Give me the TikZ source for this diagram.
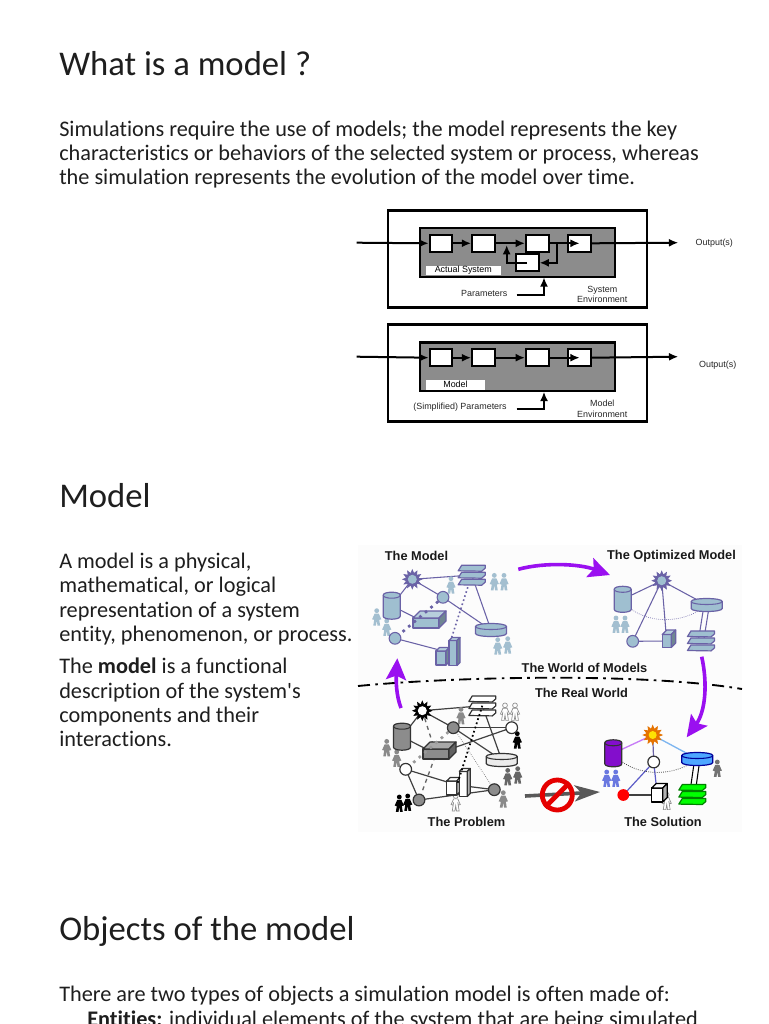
\documentclass[tikz,border=0pt]{standalone}
\usepackage{fontspec}
\setmainfont{Carlito}[Ligatures={CommonOff,TeXOff}]
\newfontfamily\dgm{Liberation Sans}
\usetikzlibrary{shapes.geometric,arrows.meta}
\definecolor{txt}{HTML}{1E1E1E}
\definecolor{mfill}{HTML}{9FBFD0}
\definecolor{mline}{HTML}{6A62A6}
\definecolor{mppl}{HTML}{A3BFD0}
\definecolor{pur}{HTML}{9A10F0}
\definecolor{pgray}{HTML}{8A8A8A}
\definecolor{pbx}{HTML}{8C8C8C}
\definecolor{pln}{HTML}{333333}
\definecolor{sblue}{HTML}{5C5CC8}
\definecolor{slb}{HTML}{7EB6F0}
\definecolor{scy}{HTML}{4DA6FF}
\definecolor{sppl}{HTML}{6A78E0}
\newcommand\iccyl[6]{\begin{scope}[shift={(#1)}]
\draw[draw=#6,fill=#5,line width=.9pt] (-#2,-#3) -- (-#2,#3) .. controls (-#2,#3+1.33*#4) and (#2,#3+1.33*#4) .. (#2,#3) -- (#2,-#3) .. controls (#2,-#3-1.33*#4) and (-#2,-#3-1.33*#4) .. (-#2,-#3) -- cycle;
\draw[draw=#6,line width=.8pt] (-#2,-#3) .. controls (-#2,-#3+1.33*#4) and (#2,-#3+1.33*#4) .. (#2,-#3);
\end{scope}}
\newcommand\icbox[6]{\begin{scope}[shift={(#1)}]
\draw[draw=#6,fill=#5,line width=.9pt,line join=round] (-#2,-#3) rectangle (#2,#3);
\draw[draw=#6,fill=#5!75!white,line width=.9pt,line join=round] (-#2,-#3) -- (-#2+#4,-#3-#4) -- (#2+#4,-#3-#4) -- (#2,-#3) -- cycle;
\draw[draw=#6,fill=#5!70!black,line width=.9pt,line join=round] (#2,-#3) -- (#2+#4,-#3-#4) -- (#2+#4,#3-#4) -- (#2,#3) -- cycle;
\end{scope}}
\newcommand\icstack[3]{\begin{scope}[shift={(#1)}]
\foreach \dy in {7,0,-7}{
\draw[draw=#3,fill=#2,line width=.9pt,line join=round] (-13.5,\dy+2.8) -- (-10,\dy-2.8) -- (13.5,\dy-2.8) -- (13.5,\dy+.2) -- (10,\dy+3.2) -- cycle;}
\end{scope}}
\newcommand\icppl[3]{\begin{scope}[shift={(#1,#2)},scale=1.15]
\fill[#3] (0,-5.5) circle (2.1);
\fill[#3] (-1.8,-3) -- (1.8,-3) -- (4,2) -- (2.4,2.4) -- (1.8,0) -- (3,7.5) -- (.7,7.5) -- (0,3) -- (-.7,7.5) -- (-3,7.5) -- (-1.8,0) -- (-2.4,2.4) -- (-4,2) -- cycle;
\end{scope}}
\newcommand\icwppl[3]{\begin{scope}[shift={(#1,#2)},scale=1.15]
\draw[#3,line width=.5pt] (0,-5.5) circle (2.1);
\draw[#3,line width=.5pt,fill=white] (-1.8,-3) -- (1.8,-3) -- (4,2) -- (2.4,2.4) -- (1.8,0) -- (3,7.5) -- (.7,7.5) -- (0,3) -- (-.7,7.5) -- (-3,7.5) -- (-1.8,0) -- (-2.4,2.4) -- (-4,2) -- cycle;
\end{scope}}
\tikzset{
 x=0.75pt,y=-0.75pt,
 ttl/.style={anchor=base west,inner sep=0,font=\fontsize{26}{30}\selectfont,text=txt},
 bdy/.style={anchor=base west,inner sep=0,font=\fontsize{16.7}{20}\selectfont,text=txt},
 dlab/.style={inner sep=0,font=\dgm\fontsize{6.7}{7.6}\selectfont,align=center,text=black!85},
 hlab/.style={inner sep=0,font=\dgm\bfseries\fontsize{9.6}{11}\selectfont,text=black!90},
 env/.style={draw=black,line width=1.8pt,fill=white},
 sys/.style={draw=black,line width=1.6pt,fill=black!45},
 blk/.style={draw=black,line width=1.5pt,fill=white,minimum width=17pt,minimum height=13pt,inner sep=0},
 arr/.style={draw=black,line width=1.5pt,-{Latex[length=7pt,width=6pt]}},
 pl/.style={draw=mline,line width=.8pt},
 gl/.style={draw=black!75,line width=.9pt},
 sun/.style={star,star points=12,star point ratio=1.6,minimum size=14pt,inner sep=0,line width=.6pt},
 purp/.style={draw=pur,line width=2.7pt,-{Stealth[length=16pt,width=15pt,inset=3pt]}},
}
\begin{document}
\begin{tikzpicture}
\useasboundingbox (0,0) rectangle (768,1024);
\clip (0,0) rectangle (768,1024);
\fill[white] (0,0) rectangle (768,1024);
% ---------- text
\node[ttl] at (59,75) {What is a model ?};
\node[bdy] at (59,136) {Simulations require the use of models; the model represents the key};
\node[bdy] at (59,160) {characteristics or behaviors of the selected system or process, whereas};
\node[bdy] at (59,184) {the simulation represents the evolution of the model over time.};
\node[ttl] at (59,507) {Model};
\node[bdy] at (59,568) {A model is a physical,};
\node[bdy] at (59,592) {mathematical, or logical};
\node[bdy] at (59,617) {representation of a system};
\node[bdy] at (59,641) {entity, phenomenon, or process.};
\node[bdy] at (59,673) {The \textbf{model} is a functional};
\node[bdy] at (59,698) {description of the system's};
\node[bdy] at (59,722) {components and their};
\node[bdy] at (59,746) {interactions.};
\node[ttl] at (59,940) {Objects of the model};
\node[bdy] at (59,1001) {There are two types of objects a simulation model is often made of:};
\node[bdy] at (87,1026) {\textbf{Entities:} individual elements of the system that are being simulated};
% ---------- system diagram
\node[env,minimum width=194pt,minimum height=72.5pt,inner sep=0] (e1) at (517.5,259) {};
\node[sys,minimum width=146.5pt,minimum height=36.5pt,inner sep=0] (s1) at (517.3,252.5) {};
\node[blk] (a1) at (441,243.3) {};
\node[blk] (a2) at (483.5,243.3) {};
\node[blk] (a3) at (537.3,243.3) {};
\node[blk] (a4) at (579.7,243.3) {};
\node[blk,minimum height=12.5pt] (a5) at (527.2,262.8) {};
\coordinate (ain) at (356.7,242.7);
\coordinate (aout) at (678.3,242.7);
\draw[arr] (ain) -- (a1.west);
\draw[arr] (a1.east) -- (a2.west);
\draw[arr] (a2.east) -- (a3.west);
\draw[arr] (a3.east) -- (a4.center);
\draw[arr] (a4.east) -- (aout);
\coordinate (fb1) at (556.7,243.3);
\coordinate (fb2) at (506.7,245);
\coordinate (p1e) at (544,277.3);
\draw[arr] (fb1) |- (a5.east);
\draw[arr] (a5.center) -- (a5.center -| fb2) -- (fb2);
\node[fill=white,inner sep=0,minimum width=56pt,minimum height=7pt,font=\dgm\fontsize{6.7}{7}\selectfont] (l1) at (463.3,270.2) {Actual System};
\node[dlab] (p1) at (484.3,293.3) {Parameters};
\coordinate (p1s) at (516.7,295.3);
\draw[arr] (p1s) -| (p1e);
\node[dlab] at (602.3,294.6) {System\\Environment};
\node[dlab] at (714.3,242.7) {Output(s)};
% second
\node[env,minimum width=194pt,minimum height=72.5pt,inner sep=0] (e2) at (517.5,373) {};
\node[sys,minimum width=146.5pt,minimum height=36.5pt,inner sep=0] (s2) at (517.3,366.8) {};
\node[blk] (b1) at (441,357.7) {};
\node[blk] (b2) at (483.5,357.7) {};
\node[blk] (b3) at (537.3,357.7) {};
\node[blk] (b4) at (579.7,357.7) {};
\coordinate (bin) at (356.7,356.7);
\coordinate (bout) at (678.3,356.7);
\coordinate (p2e) at (544,391.7);
\draw[arr] (bin) -- (b1.west);
\draw[arr] (b1.east) -- (b2.west);
\draw[arr] (b2.east) -- (b3.west);
\draw[arr] (b3.east) -- (b4.center);
\draw[arr] (b4.east) -- (bout);
\node[fill=white,inner sep=0,minimum width=44pt,minimum height=7.2pt,font=\dgm\fontsize{6.7}{7}\selectfont] (l2) at (455.5,384.8) {Model};
\node[dlab] (p2) at (460,407.3) {(Simplified) Parameters};
\coordinate (p2s) at (516.7,409.3);
\draw[arr] (p2s) -| (p2e);
\node[dlab] at (602.3,408.8) {Model\\Environment};
\node[dlab] at (717.7,365) {Output(s)};
% ---------- model-world panel
\fill[black!1] (358,545) rectangle (742,832);
\node[hlab] at (416.5,556) {The Model};
\node[hlab] at (671.5,556) {The Optimized Model};
\node[hlab] at (584.5,668) {The World of Models};
\node[hlab] at (581.5,693) {The Real World};
\node[hlab] at (466.5,822) {The Problem};
\node[hlab] at (663,822) {The Solution};
\coordinate (dd1) at (358,686);
\coordinate (dd2) at (742,689);
\draw[black,line width=1.4pt,dash pattern=on 9pt off 4pt on 2pt off 4pt] (dd1) .. controls (450,677) and (640,672) .. (dd2);
% The Model
\coordinate (m-star) at (412.3,579.3);
\coordinate (m-st) at (471.7,575);
\coordinate (m-c1) at (443,597.3);
\coordinate (m-c2) at (395,638.3);
\coordinate (m-cy) at (391.7,605.7);
\coordinate (m-bx) at (426,623);
\coordinate (m-fl) at (491,630);
\coordinate (m-bk) at (447,652);
\draw[pl] (m-star) -- (m-st);
\draw[pl] (m-star) -- (m-cy);
\draw[pl] (m-star) -- (m-c1);
\draw[pl] (m-c1) -- (m-fl);
\draw[pl] (m-st) -- (m-fl);
\draw[pl] (m-cy) -- (m-bx);
\draw[pl] (m-c2) -- (m-bk);
\draw[draw=mline,line width=1.2pt,dotted] (m-st) -- (m-bk);
\icppl{451}{585}{mppl}\icppl{494.3}{581.7}{mppl}\icppl{504}{581.7}{mppl}
\icppl{376.7}{617}{mppl}\icppl{386.7}{627.3}{mppl}\icppl{497.7}{646}{mppl}\icppl{507.7}{645}{mppl}
\iccyl{m-cy}{8.5}{10.5}{3}{mfill}{mline}
\iccyl{m-fl}{15.5}{3.5}{3}{mfill}{mline}
\icbox{m-bx}{13}{5}{7}{mfill}{mline}
\icstack{m-st}{mfill}{mline}
\begin{scope}[shift={(441,658)}]\icbox{0,0}{5}{7}{3.5}{mfill}{mline}\end{scope}
\begin{scope}[shift={(453,653)}]\icbox{0,0}{4}{12.5}{3}{mfill}{mline}\end{scope}
\node[circle,draw=mline,fill=mfill,line width=.8pt,minimum size=8.8pt,inner sep=0] (m-n1) at (m-c1) {};
\node[circle,draw=mline,fill=mfill,line width=.8pt,minimum size=8.8pt,inner sep=0] (m-n2) at (m-c2) {};
\draw[draw=mline,line width=2pt,dash pattern=on 2pt off 3.5pt] (m-n1) -- (m-n2);
\node[sun,draw=mline,fill=mline] (m-sun) at (m-star) {};
\fill[mfill] (m-star) circle (4.5);
% Optimized
\coordinate (o-star) at (661.7,580.7);
\coordinate (o-cy) at (622.7,599.3);
\coordinate (o-fl) at (706.7,605);
\coordinate (o-c) at (632.7,641.3);
\coordinate (o-bx) at (666.7,641);
\coordinate (o-st) at (701,640.7);
\draw[pl] (o-star) -- (o-cy);
\draw[pl] (o-star) -- (o-fl);
\draw[pl] (o-star) -- (o-c);
\draw[pl] (o-star) -- (o-bx);
\draw[pl] (o-c) -- (o-bx);
\draw[pl] ([xshift=-2pt]o-fl) -- ([xshift=-2pt]o-st);
\draw[pl] ([xshift=2pt]o-fl) -- ([xshift=2pt]o-st);
\draw[draw=mline,line width=.5pt,densely dotted] (o-cy) .. controls (635,622) and (680,628) .. (o-fl);
\icppl{616}{624.3}{mppl}\icppl{625}{624.3}{mppl}
\iccyl{o-cy}{8.5}{10}{3}{mfill}{mline}
\iccyl{o-fl}{15.5}{3.5}{3}{mfill}{mline}
\icbox{o-bx}{4.5}{6.5}{4.5}{mfill}{mline}
\icstack{o-st}{mfill}{mline}
\node[circle,draw=mline,fill=mfill,line width=.8pt,minimum size=8.8pt,inner sep=0] (o-n) at (o-c) {};
\node[sun,draw=mline,fill=mline] (o-sun) at (o-star) {};
\fill[mfill] (o-star) circle (4.5);
% The Problem
\coordinate (p-star) at (422.3,710.7);
\coordinate (p-st) at (482.3,705.7);
\coordinate (p-g1) at (453.3,727.7);
\coordinate (p-w1) at (511.7,727.7);
\coordinate (p-cy) at (402,736.7);
\coordinate (p-bx) at (436,754);
\coordinate (p-fl) at (501.7,760);
\coordinate (p-w2) at (405.7,769.3);
\coordinate (p-bk) at (457,785);
\coordinate (p-g2) at (494.3,789.7);
\coordinate (p-g3) at (419,800);
\draw[gl] (p-star) -- (p-st);
\draw[gl] (p-star) -- (p-g1);
\draw[gl] (p-star) -- (p-cy);
\draw[gl] (p-g1) -- (p-w1);
\draw[gl] (p-g1) -- (p-fl);
\draw[gl] (p-st) -- (p-fl);
\draw[gl] (p-cy) -- (p-bx);
\draw[gl] (p-bx) -- (p-w1);
\draw[gl] (p-w2) -- (p-bk);
\draw[gl] (p-bk) -- (p-g2);
\draw[gl] (p-w2) -- (p-g3);
\draw[gl] (p-g3) -- (p-g2);
\draw[black!55,line width=.5pt,densely dotted] (p-g1) -- (p-g2);
\draw[black!60,line width=1pt,dashed] (p-star) -- (p-bx) -- (p-g3);
\icppl{461}{715.7}{pgray}\icppl{386.7}{747.7}{pgray}\icppl{396.7}{758.3}{pgray}
\icppl{507.7}{776.7}{black!60}\icppl{517.7}{775}{black!60}\icppl{503.3}{799}{pgray}
\icppl{517.3}{740}{black}\icppl{399.3}{803.3}{black}\icppl{407.7}{802.3}{black}
\icwppl{505}{711.7}{black!45}\icwppl{515}{711.7}{black!45}\icwppl{455.7}{802.3}{black!45}
\iccyl{p-cy}{8.5}{10.5}{3}{pbx}{pln}
\iccyl{p-fl}{15.5}{3.5}{3}{black!8}{pln}
\icbox{p-bx}{13}{5}{7}{pbx}{pln}
\icstack{p-st}{white}{pln}
\begin{scope}[shift={(451.7,788)}]\icbox{0,0}{5}{7}{3.5}{white}{pln}\end{scope}
\begin{scope}[shift={(463.3,784)}]\icbox{0,0}{4}{12.5}{3}{white}{pln}\end{scope}
\draw[black,line width=1.3pt,dotted] (p-st) -- (p-bk);
\node[circle,draw=pln,fill=pbx,line width=.9pt,minimum size=8.8pt,inner sep=0] (p-n1) at (p-g1) {};
\node[circle,draw=pln,fill=white,line width=.9pt,minimum size=8.8pt,inner sep=0] (p-n2) at (p-w1) {};
\node[circle,draw=pln,fill=white,line width=.9pt,minimum size=8.8pt,inner sep=0] (p-n3) at (p-w2) {};
\node[circle,draw=pln,fill=pbx,line width=.9pt,minimum size=8.8pt,inner sep=0] (p-n4) at (p-g2) {};
\node[circle,draw=pln,fill=pbx,line width=.9pt,minimum size=8.8pt,inner sep=0] (p-n5) at (p-g3) {};
\draw[black!40,line width=2pt,dash pattern=on 2pt off 3.5pt] (p-n1) -- (p-n3);
\node[sun,draw=black,fill=black] (p-sun) at (p-star) {};
\fill[white] (p-star) circle (4.5);
% The Solution
\coordinate (s-star) at (652.7,735);
\coordinate (s-cy) at (613.3,753.3);
\coordinate (s-w) at (653.7,762);
\coordinate (s-fl) at (697.3,759);
\coordinate (s-st) at (692.3,794.3);
\coordinate (s-r) at (623.3,795);
\coordinate (s-bx) at (657.3,795);
\draw[draw=pur!55!white,line width=1pt] (s-star) -- (s-cy);
\draw[draw=slb,line width=1pt] (s-star) -- (s-fl);
\draw[draw=mline,line width=.9pt] (s-star) -- (s-w);
\draw[draw=sblue,line width=.9pt] (s-w) -- (s-r);
\draw[draw=sblue,line width=.9pt] (s-w) -- (s-bx);
\draw[gl] (s-r) -- (s-bx);
\draw[black,line width=.8pt] ([xshift=-2pt]s-fl) -- ([xshift=-2pt]s-st);
\draw[black,line width=.8pt] ([xshift=2pt]s-fl) -- ([xshift=2pt]s-st);
\draw[black!70,line width=.6pt,densely dotted] (s-cy) .. controls (630,775) and (670,780) .. (s-fl);
\icppl{606.7}{778.3}{sppl}\icppl{615.7}{778.3}{sppl}
\icppl{717.3}{768.3}{black!55}
\icwppl{666.7}{801}{black!45}
\iccyl{s-cy}{8.5}{10.5}{3}{pur!85!black}{black!80}
\iccyl{s-fl}{15.5}{3.5}{3}{scy}{blue!60!black}
\icstack{s-st}{green}{green!50!black}
\icbox{s-bx}{5.5}{7}{4.5}{white}{black}
\node[circle,draw=black!80,fill=white,line width=.9pt,minimum size=8.8pt,inner sep=0] (s-n1) at (s-w) {};
\node[circle,fill=red,minimum size=8.8pt,inner sep=0] (s-n2) at (s-r) {};
\node[sun,draw=orange!90!black,fill=orange!90!black] (s-sun) at (s-star) {};
\fill[yellow!85!orange] (s-star) circle (4);
% big arrows
\coordinate (u1) at (518.3,569.3); \coordinate (u2) at (610,575);
\coordinate (v1) at (401,708); \coordinate (v2) at (397.3,658.3);
\coordinate (w1) at (701.7,656.7); \coordinate (w2) at (686.7,737.3);
\draw[purp] (u1) .. controls (545,562) and (580,564) .. (u2);
\draw[purp] (v1) .. controls (396,695) and (396,680) .. (v2);
\draw[purp] (w1) .. controls (708,685) and (705,712) .. (w2);
% forbidden arrow
\coordinate (f1) at (525,796); \coordinate (f2) at (600,792);
\draw[draw=black!65,line width=2.7pt,-{Stealth[length=19pt,width=12pt,inset=5pt]}] (f1) -- (f2);
\node[circle,draw=red!90!black,line width=3.6pt,minimum size=22.5pt,inner sep=0] (nosign) at (557.3,795) {};
\draw[red!90!black,line width=3.6pt] (nosign.north east) -- (nosign.south west);
\end{tikzpicture}
\end{document}
